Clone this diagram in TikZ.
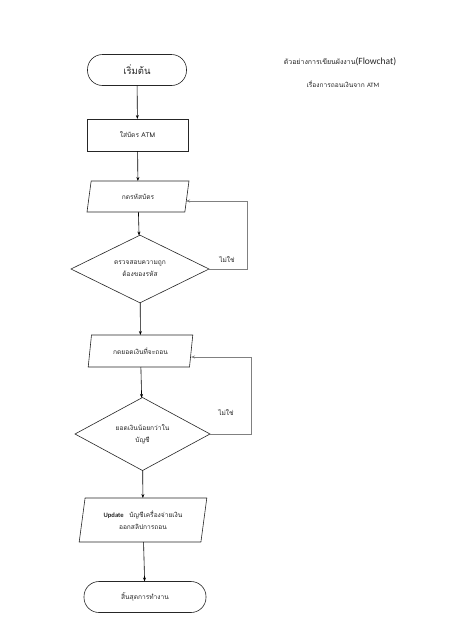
\documentclass[tikz,border=0pt]{standalone}
\usepackage{fontspec}
\setmainfont{Carlito}
\newfontfamily\thai[Script=Thai]{Loma}
\usetikzlibrary{shapes.geometric,arrows.meta}
\begin{document}
\begin{tikzpicture}[x=1pt,y=-1pt,
  every node/.style={inner sep=0pt, outer sep=0pt},
  txt/.style={font=\thai\fontsize{6.6}{12}\selectfont, text=black!85, align=center},
  term/.style={draw=black!85, line width=0.6pt, rounded corners=15pt, minimum width=99pt, minimum height=31pt},
  procbox/.style={draw=black!85, line width=0.6pt, minimum width=101pt, minimum height=32pt},
  para/.style={draw=black!85, line width=0.6pt, trapezium, trapezium left angle=75, trapezium right angle=105, trapezium stretches=true},
  dia/.style={draw=black!85, line width=0.6pt, diamond},
  flow/.style={draw=black, line width=0.6pt, -{Stealth[length=4pt,width=3pt]}},
  loop/.style={draw=black!50, line width=0.6pt, -{Stealth[length=4pt,width=3pt]}}
]
\useasboundingbox (0,0) rectangle (453,640);
\fill[white] (0,0) rectangle (453,640);

\node[term, txt, font=\thai\fontsize{9.5}{11}\selectfont] (start) at (137,70) {เริ่มต้น};
\node[procbox, txt] (card) at (137.5,135) {ใส่บัตร ATM};
\node[para, txt, minimum width=102pt, minimum height=31pt] (pin) at (138,196.5) {กดรหัสบัตร};
\node[dia, txt, minimum width=138pt, minimum height=62pt] (chk) at (140,269) {ตรวจสอบความถูก\\ต้องของรหัส};
\node[para, txt, minimum width=105pt, minimum height=32pt] (amt) at (140.5,351) {กดยอดเงินที่จะถอน};
\node[dia, txt, minimum width=135pt, minimum height=64pt] (bal) at (142.5,434) {ยอดเงินน้อยกว่าใน\\บัญชี};
\node[para, txt, minimum width=128pt, minimum height=44pt, trapezium left angle=78, trapezium right angle=102] (upd) at (143,520) {{\fontspec{Carlito}\bfseries Update}\,\,\, บัญชีเครื่องจ่ายเงิน\\ออกสลิปการถอน};
\node[term, txt, minimum width=122pt] (stop) at (145,597) {สิ้นสุดการทำงาน};

\node[txt, font=\thai\fontsize{7}{12}\selectfont] (title) at (340,62) {ตัวอย่างการเขียนผังงาน{\fontspec{Carlito}\fontsize{9.5}{10}\selectfont(Flowchat)}};
\node[txt] (sub) at (343,84) {เรื่องการถอนเงินจาก {\fontspec{Carlito}ATM}};

\draw[flow] (start) -- (card);
\draw[flow] (card) -- (pin);
\draw[flow] (pin) -- (chk);
\draw[flow] (chk) -- (amt);
\draw[flow] (amt) -- (bal);
\draw[flow] (bal) -- (upd);
\draw[flow] (upd) -- (stop);

\coordinate (l1) at (247,201);
\coordinate (l2) at (251,357);
\coordinate (t1) at (186,201);
\coordinate (t2) at (191,357);
\draw[loop] (chk.east) -| (l1) -- (t1);
\draw[loop] (bal.east) -| (l2) -- (t2);
\node[txt] (no1) at (227,260) {ไม่ใช่};
\node[txt] (no2) at (226,413) {ไม่ใช่};
\end{tikzpicture}
\end{document}
